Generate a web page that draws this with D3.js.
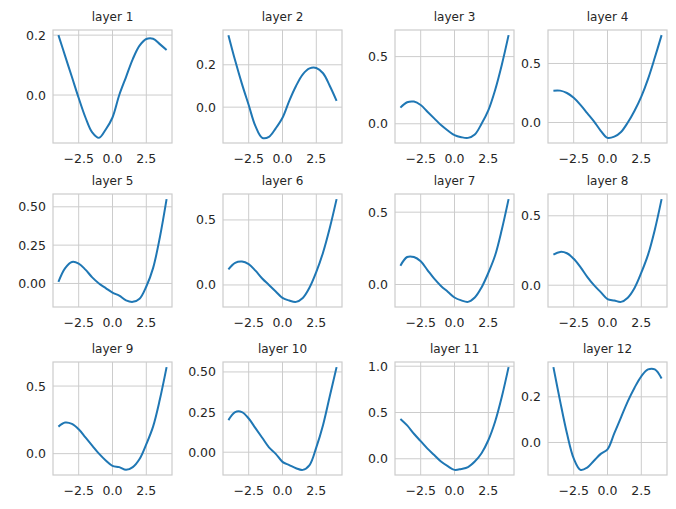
<!DOCTYPE html>
<html><head><meta charset="utf-8">
<script src="https://cdn.jsdelivr.net/npm/d3@7"></script>
<style>body{margin:0;background:#fff}text{font-family:"DejaVu Sans",sans-serif;fill:#262626}</style>
</head><body><svg id="c" width="676" height="509"></svg>
<script>
// x positions shared by every layer
var xs = [-4,-3.5,-3,-2.5,-2,-1.5,-1,-0.5,0,0.5,1,1.5,2,2.5,3,3.5,4];
var titles = ['layer 1','layer 2','layer 3','layer 4','layer 5','layer 6','layer 7','layer 8','layer 9','layer 10','layer 11','layer 12'];
var layer1  = [0.20,0.13,0.06,-0.01,-0.075,-0.125,-0.143,-0.115,-0.075,0.0,0.06,0.12,0.165,0.187,0.188,0.17,0.15];
var layer2  = [0.34,0.22,0.11,0.01,-0.09,-0.145,-0.14,-0.10,-0.05,0.03,0.10,0.155,0.183,0.185,0.16,0.10,0.03];
var layer3  = [0.12,0.16,0.165,0.14,0.09,0.04,-0.01,-0.05,-0.085,-0.10,-0.105,-0.08,0.0,0.10,0.25,0.44,0.66];
var layer4  = [0.27,0.27,0.25,0.21,0.15,0.08,0.01,-0.07,-0.13,-0.12,-0.08,0.0,0.10,0.22,0.37,0.55,0.74];
var layer5  = [0.01,0.10,0.14,0.13,0.09,0.04,0.0,-0.03,-0.06,-0.08,-0.11,-0.12,-0.10,-0.02,0.10,0.30,0.55];
var layer6  = [0.12,0.17,0.18,0.16,0.11,0.05,0.0,-0.05,-0.10,-0.12,-0.13,-0.10,-0.02,0.10,0.25,0.44,0.66];
var layer7  = [0.13,0.19,0.19,0.16,0.10,0.04,-0.01,-0.05,-0.09,-0.11,-0.12,-0.09,-0.02,0.08,0.20,0.38,0.59];
var layer8  = [0.22,0.24,0.23,0.19,0.13,0.06,0.0,-0.05,-0.10,-0.11,-0.12,-0.09,-0.02,0.09,0.22,0.40,0.62];
var layer9  = [0.20,0.23,0.22,0.18,0.12,0.06,0.0,-0.05,-0.09,-0.10,-0.12,-0.10,-0.04,0.07,0.20,0.40,0.64];
var layer10 = [0.20,0.25,0.25,0.21,0.15,0.09,0.03,-0.01,-0.06,-0.08,-0.10,-0.11,-0.08,0.03,0.17,0.35,0.53];
var layer11 = [0.43,0.36,0.27,0.19,0.11,0.04,-0.03,-0.08,-0.12,-0.11,-0.09,-0.03,0.06,0.20,0.40,0.67,0.99];
var layer12 = [0.33,0.18,0.04,-0.07,-0.12,-0.11,-0.08,-0.05,-0.03,0.04,0.11,0.18,0.24,0.29,0.32,0.32,0.28];
var series = [layer1,layer2,layer3,layer4,layer5,layer6,layer7,layer8,layer9,layer10,layer11,layer12];
var xTicks = [-2.5,0,2.5];
var yTicks = [[0,0.2],[0,0.2],[0,0.5],[0,0.5],[0,0.25,0.5],[0,0.5],[0,0.5],[0,0.5],[0,0.5],[0,0.25,0.5],[0,0.5,1],[0,0.2]];
var yDigits = [1,1,1,1,2,1,1,1,1,2,1,1];

var colLeft = [53,223,395,548], rowTop = [30,194,362], w = 119, h = 113;
var svg = d3.select('#c');
var minus = function(s) { return s.replace('-', '\u2212'); };

series.forEach(function(ys, i) {
  var g = svg.append('g').attr('transform', 'translate(' + colLeft[i % 4] + ',' + rowTop[Math.floor(i / 4)] + ')');
  var ext = d3.extent(ys), pad = (ext[1] - ext[0]) * 0.05;
  var x = d3.scaleLinear().domain([-4.4, 4.4]).range([0, w]);
  var y = d3.scaleLinear().domain([ext[0] - pad, ext[1] + pad]).range([h, 0]);

  g.selectAll('.gx').data(xTicks).join('line')
    .attr('x1', d => x(d)).attr('x2', d => x(d)).attr('y1', 0).attr('y2', h)
    .attr('stroke', '#cccccc').attr('stroke-width', 1);
  g.selectAll('.gy').data(yTicks[i]).join('line')
    .attr('x1', 0).attr('x2', w).attr('y1', d => y(d)).attr('y2', d => y(d))
    .attr('stroke', '#cccccc').attr('stroke-width', 1);
  g.append('rect').attr('width', w).attr('height', h)
    .attr('fill', 'none').attr('stroke', '#cccccc').attr('stroke-width', 1.2);

  g.selectAll('.tx').data(xTicks).join('text')
    .attr('x', d => x(d)).attr('y', h + 20).attr('text-anchor', 'middle')
    .attr('font-size', 12.5).text(d => minus(d.toFixed(1)));
  g.selectAll('.ty').data(yTicks[i]).join('text')
    .attr('x', -7).attr('y', d => y(d) + 4.5).attr('text-anchor', 'end')
    .attr('font-size', 12.5).text(d => minus(d.toFixed(yDigits[i])));
  g.append('text').attr('x', w / 2).attr('y', -9).attr('text-anchor', 'middle')
    .attr('font-size', 12).text(titles[i]);

  var line = d3.line().x((d, k) => x(xs[k])).y(d => y(d)).curve(d3.curveCatmullRom);
  g.append('path').datum(ys).attr('d', line)
    .attr('fill', 'none').attr('stroke', '#1f77b4').attr('stroke-width', 2);
});
</script></body></html>
